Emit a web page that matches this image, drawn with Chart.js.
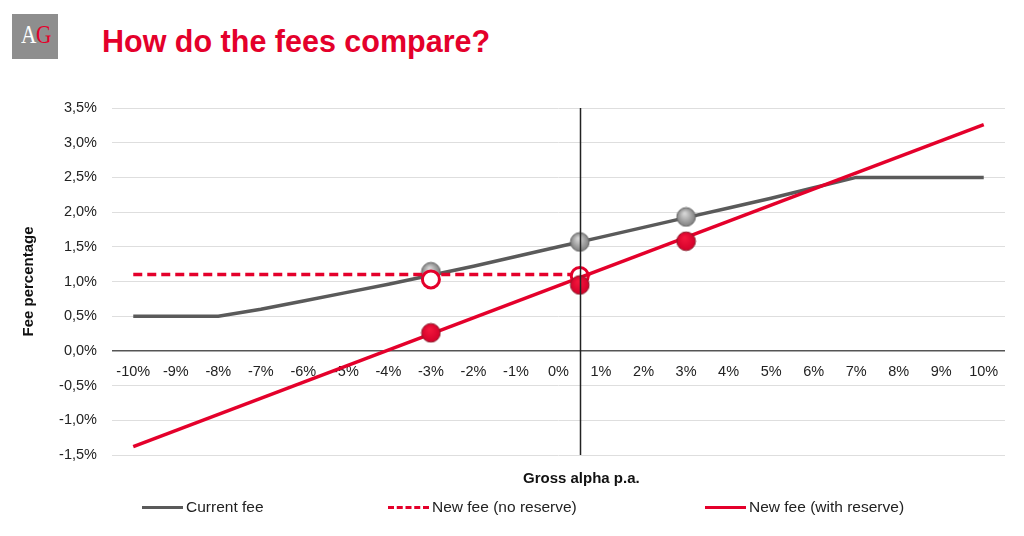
<!DOCTYPE html>
<html>
<head>
<meta charset="utf-8">
<script src="https://cdn.jsdelivr.net/npm/chart.js@4.4.1/dist/chart.umd.min.js"></script>
<style>
  body { margin: 0; background: #fff; font-family: 'Liberation Sans', Arial, sans-serif; }
  .page { position: relative; width: 1024px; height: 536px; overflow: hidden; }
  .logo { position: absolute; left: 12px; top: 14px; width: 46px; height: 45px; background: #8e8e8e; }
  .logo span { position: absolute; top: 8px; font-family: 'Liberation Serif', serif; font-size: 26px; line-height: 1; transform: scaleX(0.82); transform-origin: left top; }
  .title { position: absolute; left: 102px; top: 26px; font-size: 30.5px; line-height: 1; font-weight: bold; color: #e4002b; white-space: nowrap; }
  .chart-box { position: absolute; left: 0; top: 0; width: 1024px; height: 536px; }
  .xtitle { position: absolute; left: 523px; top: 469px; font-size: 15px; font-weight: bold; color: #111; white-space: nowrap; }
  .legend-item { position: absolute; top: 499px; height: 16px; display: flex; align-items: center; font-size: 15.5px; color: #222; white-space: nowrap; }
  .legend-item i { display: inline-block; width: 41px; height: 0; margin-right: 3px; }
</style>
</head>
<body>
<div class="page">
  <div class="logo"><span style="left:9px;color:#fff">A</span><span style="left:24px;color:#e4002b">G</span></div>
  <div class="title">How do the fees compare?</div>
  <div class="chart-box"><canvas id="feeChart"></canvas></div>
  <div class="xtitle">Gross alpha p.a.</div>
  <div class="legend-item" style="left:142px"><i style="border-top:3.5px solid #5a5a5a"></i>Current fee</div>
  <div class="legend-item" style="left:388px"><i style="border-top:3.5px dashed #e4002b"></i>New fee (no reserve)</div>
  <div class="legend-item" style="left:705px"><i style="border-top:3.5px solid #e4002b"></i>New fee (with reserve)</div>
</div>
<script>
// gross alpha ticks (%), fee values (%)
const alpha = [-10, -9, -8, -7, -6, -5, -4, -3, -2, -1, 0, 1, 2, 3, 4, 5, 6, 7, 8, 9, 10];
const currentFee = [0.5, 0.5, 0.5, 0.6, 0.72, 0.84, 0.96, 1.09, 1.22, 1.36, 1.5, 1.64, 1.78, 1.92, 2.06, 2.2, 2.35, 2.5, 2.5, 2.5, 2.5];

const noReserveAlpha = [-10, 0.8];
const noReserveFee = [1.1, 1.1];

const withReserveAlpha = [-10, 10];
const withReserveFee = [-1.38, 3.26];

// highlighted example points
const markerAlpha = [-3, 0.5, 3];
const currentMarkers = [1.14, 1.57, 1.93];
const noReserveMarkers = [1.03, 1.08];
const withReserveMarkers = [0.26, 0.95, 1.58];

const yTicks = [-1.5, -1.0, -0.5, 0, 0.5, 1.0, 1.5, 2.0, 2.5, 3.0, 3.5];
const refLineAlpha = 0.5;

const RED = '#e4002b';
const GREY = '#5a5a5a';

Chart.defaults.font.family = "'Liberation Sans', Arial, sans-serif";

function pts(xs, ys) {
  return ys.map((y, i) => ({ x: xs[i], y: y }));
}

function ball(inner, outer, edge) {
  const c = document.createElement('canvas');
  c.width = 21; c.height = 21;
  const g = c.getContext('2d');
  const grad = g.createRadialGradient(9, 7, 1, 10.5, 10.5, 10);
  grad.addColorStop(0, inner);
  grad.addColorStop(1, outer);
  g.beginPath();
  g.arc(10.5, 10.5, 9.3, 0, Math.PI * 2);
  g.fillStyle = grad;
  g.fill();
  g.lineWidth = 1;
  g.strokeStyle = edge;
  g.stroke();
  return c;
}
const greyBall = ball('#d4d4d4', '#7a7a7a', '#666');
const redBall = ball('#f2163c', '#d2002a', '#8a1a28');

// vertical reference line at the y-axis crossing
const refLine = {
  id: 'refLine',
  afterDatasetsDraw(chart) {
    const { ctx, chartArea, scales } = chart;
    const x = Math.round(scales.x.getPixelForValue(refLineAlpha)) + 0.5;
    ctx.save();
    ctx.strokeStyle = '#222';
    ctx.lineWidth = 1.5;
    ctx.beginPath();
    ctx.moveTo(x, chartArea.top);
    ctx.lineTo(x, chartArea.bottom);
    ctx.stroke();
    ctx.restore();
  }
};

new Chart(document.getElementById('feeChart'), {
  type: 'line',
  plugins: [refLine],
  data: {
    datasets: [
      { label: 'Current fee', data: pts(alpha, currentFee), borderColor: GREY, borderWidth: 3.5, pointRadius: 0, order: 6 },
      { label: 'current pts', data: pts(markerAlpha, currentMarkers), showLine: false, pointStyle: greyBall, order: 5 },
      { label: 'New fee (no reserve)', data: pts(noReserveAlpha, noReserveFee), borderColor: RED, borderWidth: 3.5, borderDash: [9, 5], pointRadius: 0, order: 4 },
      { label: 'no reserve pts', data: pts(markerAlpha, noReserveMarkers), showLine: false, pointRadius: 8.5, pointBorderWidth: 3, pointBorderColor: RED, pointBackgroundColor: '#fff', order: 3 },
      { label: 'New fee (with reserve)', data: pts(withReserveAlpha, withReserveFee), borderColor: RED, borderWidth: 3.5, pointRadius: 0, order: 2 },
      { label: 'with reserve pts', data: pts(markerAlpha, withReserveMarkers), showLine: false, pointStyle: redBall, order: 1 }
    ]
  },
  options: {
    responsive: true,
    maintainAspectRatio: false,
    animation: false,
    layout: { padding: { left: 0, right: 19, top: 108, bottom: 81 } },
    plugins: { legend: { display: false }, tooltip: { enabled: false } },
    scales: {
      x: {
        type: 'linear',
        position: { y: 0 },
        min: -10.5,
        max: 10.5,
        afterBuildTicks: (scale) => { scale.ticks = alpha.map(v => ({ value: v })); },
        grid: { display: false },
        border: { display: false },
        ticks: { color: '#222', font: { size: 14.5 }, padding: 4, maxRotation: 0, autoSkip: false, callback: (v) => v + '%' }
      },
      y: {
        min: -1.5,
        max: 3.5,
        afterBuildTicks: (scale) => { scale.ticks = yTicks.map(v => ({ value: v })); },
        afterFit: (scale) => { scale.width = 112; },
        grid: {
          drawTicks: false,
          color: (ctx) => ctx.tick && ctx.tick.value === 0 ? '#555' : '#dedede',
          lineWidth: (ctx) => ctx.tick && ctx.tick.value === 0 ? 1.5 : 1
        },
        border: { display: false },
        ticks: { color: '#222', font: { size: 14.5 }, padding: 15, callback: (v) => v.toFixed(1).replace('.', ',') + '%' },
        title: { display: true, text: 'Fee percentage', color: '#111', font: { size: 15, weight: 'bold' }, padding: { top: 20, bottom: 0 } }
      }
    }
  }
});
</script>
</body>
</html>
